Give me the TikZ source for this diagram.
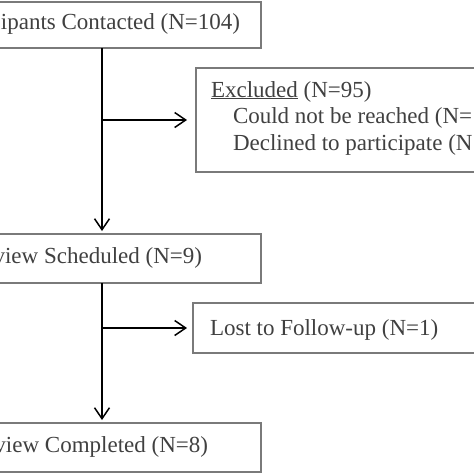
\documentclass[tikz,border=0pt]{standalone}
\usepackage{fontspec}
\setmainfont{Liberation Serif}
\usetikzlibrary{arrows.meta}
\definecolor{txtgray}{HTML}{404040}
\definecolor{boxgray}{HTML}{7A7A7A}
\tikzset{
  box/.style={draw=boxgray, line width=1.1pt, rectangle, inner sep=0pt, outer sep=0pt},
  lbl/.style={inner sep=0pt, outer sep=0pt, text=txtgray, font=\fontsize{23}{27}\selectfont},
  flow/.style={draw=black, line width=1.5pt, -{Straight Barb[length=11pt,width=15pt,line width=1.5pt]}},
}
\begin{document}
\begin{tikzpicture}[x=1pt,y=-1pt]
\useasboundingbox (0,0) rectangle (474,474);
\clip (0,0) rectangle (474,474);
% boxes
\node[box, minimum width=341pt, minimum height=46pt] (top) at (90.5,25) {};
\node[box, minimum width=364pt, minimum height=104pt] (excl) at (378,120) {};
\node[box, minimum width=341pt, minimum height=49pt] (sched) at (90.5,258.5) {};
\node[box, minimum width=367pt, minimum height=50pt] (lost) at (376.5,328) {};
\node[box, minimum width=341pt, minimum height=49pt] (comp) at (90.5,447.5) {};
% texts
\node[lbl, anchor=base east] (ttop) at (240,29) {Participants Contacted (N=104)};
\node[lbl, anchor=base west] (texcl) at (211,97) {\underline{Excluded} (N=95)};
\node[lbl, anchor=base west] (treach) at (233,123) {Could not be reached (N=};
\node[lbl, anchor=base west] (tdecl) at (233,150) {Declined to participate (N};
\node[lbl, anchor=base east] (tsched) at (202,263) {Interview Scheduled (N=9)};
\node[lbl, anchor=base west] (tlost) at (210,335) {Lost to Follow-up (N=1)};
\node[lbl, anchor=base east] (tcomp) at (208,452) {Interview Completed (N=8)};
% spine
\coordinate (sx) at (102,0);
\draw[flow, shorten >=3pt] (top.south -| sx) -- (sched.north -| sx);
\draw[flow, shorten >=3pt] (sched.south -| sx) -- (comp.north -| sx);
\draw[flow, shorten >=9pt] (sx |- excl.west) -- (excl.west);
\draw[flow, shorten >=6pt] (sx |- lost.west) -- (lost.west);
\end{tikzpicture}
\end{document}
